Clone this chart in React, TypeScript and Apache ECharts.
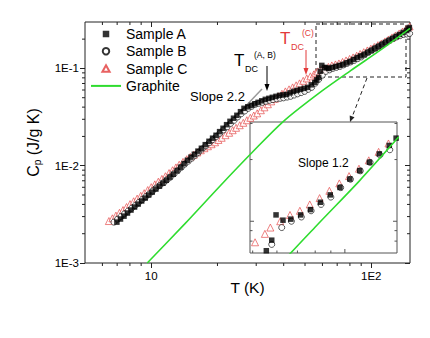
import React, { useEffect, useRef } from 'react';
import * as echarts from 'echarts';

// ---- data ----
const sampleA_T = [6.98, 7.25, 7.52, 7.8, 8.09, 8.4, 8.72, 9.05, 9.39, 9.74, 10.1, 10.5, 10.9, 11.3, 11.7, 12.15, 12.6, 13.1, 13.6, 14.1, 14.6, 15.15, 15.7, 16.3, 16.9, 17.6, 18.3, 19.0, 19.7, 20.45, 21.2, 22.0, 22.8, 23.65, 24.5, 25.45, 26.4, 27.45, 28.5, 29.55, 30.6, 31.8, 33.0, 34.25, 35.5, 36.9, 38.3, 39.75, 41.2, 42.75, 44.3, 46.0, 47.7, 49.55, 51.4, 53.4, 55.4, 56.5, 57.7, 58.6, 59.6, 61.5, 62.8, 64.2, 66.6, 69.1, 71.7, 74.4, 77.2, 80.1, 83.2, 86.3, 89.6, 92.9, 96.4, 100, 103.8, 107.7, 111.8, 115.9, 120.3, 124.8, 129.6, 134.4, 139.6, 144.8, 147, 149];
const sampleA_Cp = [0.00263, 0.00283, 0.00303, 0.00326, 0.0035, 0.00376, 0.00403, 0.00434, 0.00465, 0.005, 0.00535, 0.00576, 0.00617, 0.00663, 0.0071, 0.00764, 0.00818, 0.00892, 0.00966, 0.01052, 0.01138, 0.01225, 0.01312, 0.01412, 0.01511, 0.01646, 0.01782, 0.01918, 0.02055, 0.0224, 0.02425, 0.02641, 0.02858, 0.03077, 0.03297, 0.03592, 0.03888, 0.04031, 0.04175, 0.04327, 0.0448, 0.04644, 0.04808, 0.04925, 0.05043, 0.05165, 0.05287, 0.05348, 0.0541, 0.05607, 0.05805, 0.05947, 0.06089, 0.06236, 0.06384, 0.06782, 0.0718, 0.07632, 0.08084, 0.0935, 0.1074, 0.1024, 0.1012, 0.1, 0.1024, 0.1049, 0.1074, 0.1099, 0.114, 0.118, 0.1238, 0.1297, 0.1345, 0.1393, 0.1462, 0.1531, 0.1607, 0.1683, 0.1766, 0.1849, 0.194, 0.2032, 0.2132, 0.2233, 0.2343, 0.2453, 0.2544, 0.2635];

const sampleB_T = [6.77, 7.03, 7.29, 7.56, 7.84, 8.14, 8.45, 8.77, 9.09, 9.44, 9.79, 10.14, 10.5, 10.95, 11.4, 11.8, 12.2, 12.7, 13.2, 13.7, 14.2, 14.75, 15.3, 15.85, 16.4, 17.05, 17.7, 18.35, 19.0, 19.75, 20.5, 21.3, 22.1, 22.95, 23.8, 24.7, 25.6, 26.6, 27.6, 28.65, 29.7, 30.85, 32.0, 33.2, 34.4, 35.75, 37.1, 38.5, 39.9, 41.45, 43.0, 44.6, 46.2, 48.0, 49.8, 51.7, 53.6, 55.65, 57.7, 59.95, 62.2, 64.55, 66.9, 69.5, 72.1, 74.85, 77.6, 80.6, 83.6, 86.8, 90.0, 93.45, 96.9, 100.6, 104.3, 108.3, 112.3, 116.6, 120.9, 125.55, 130.2, 135.2, 140.2, 144.8, 149.4];
const sampleB_Cp = [0.00263, 0.00282, 0.003, 0.0032, 0.00341, 0.00365, 0.00389, 0.00418, 0.00448, 0.00479, 0.0051, 0.00549, 0.00588, 0.00628, 0.00669, 0.00715, 0.00762, 0.00825, 0.00889, 0.00962, 0.01036, 0.01115, 0.01194, 0.01284, 0.01375, 0.01489, 0.01603, 0.01725, 0.01848, 0.02001, 0.02154, 0.02332, 0.02511, 0.0272, 0.02929, 0.03172, 0.03415, 0.03651, 0.03888, 0.04081, 0.04275, 0.04377, 0.0448, 0.04588, 0.04696, 0.04781, 0.04866, 0.04923, 0.04981, 0.05071, 0.05162, 0.05317, 0.05472, 0.05638, 0.05805, 0.06094, 0.06384, 0.07046, 0.07709, 0.08512, 0.09316, 0.09658, 0.1, 0.1024, 0.1049, 0.1087, 0.1125, 0.1166, 0.1208, 0.126, 0.1312, 0.1385, 0.1459, 0.1531, 0.1603, 0.1682, 0.1762, 0.1849, 0.1937, 0.202, 0.2104, 0.2168, 0.2233, 0.2259, 0.2286];

const sampleC_T = [6.42, 6.66, 6.91, 7.17, 7.44, 7.72, 8.01, 8.32, 8.63, 8.96, 9.29, 9.64, 10.0, 10.38, 10.77, 11.18, 11.6, 12.05, 12.5, 12.95, 13.4, 13.95, 14.5, 15.05, 15.6, 16.2, 16.8, 17.45, 18.1, 18.8, 19.5, 20.2, 20.9, 21.75, 22.6, 23.45, 24.3, 25.25, 26.2, 27.2, 28.2, 29.25, 30.3, 31.5, 32.7, 33.9, 35.1, 36.45, 37.8, 39.25, 40.7, 42.3, 43.9, 45.55, 47.2, 49.05, 50.9, 52.85, 54.8, 55.95, 57.1, 59.3, 61.5, 63.85, 66.2, 68.75, 71.3, 74.05, 76.8, 79.75, 82.7, 85.85, 89.0, 92.45, 95.9, 99.55, 103.2, 107.2, 111.2, 115.45, 119.7, 124.3, 128.9, 133.85, 138.8, 144.1, 149.4];
const sampleC_Cp = [0.0027, 0.00288, 0.00307, 0.00328, 0.0035, 0.00376, 0.00403, 0.00431, 0.00459, 0.0049, 0.00522, 0.00562, 0.00602, 0.00643, 0.00685, 0.00732, 0.0078, 0.0084, 0.00899, 0.0096, 0.01024, 0.01095, 0.01166, 0.01231, 0.01297, 0.01369, 0.01442, 0.01513, 0.01585, 0.01663, 0.01742, 0.0184, 0.01937, 0.02059, 0.02181, 0.02317, 0.02453, 0.02607, 0.02761, 0.02934, 0.03107, 0.03281, 0.03455, 0.03718, 0.03981, 0.04284, 0.04587, 0.04874, 0.05162, 0.05485, 0.05808, 0.06096, 0.06385, 0.06702, 0.07019, 0.07457, 0.07896, 0.08287, 0.08679, 0.08997, 0.09316, 0.09658, 0.1, 0.1036, 0.1073, 0.1099, 0.1125, 0.1166, 0.1208, 0.1252, 0.1297, 0.1352, 0.1408, 0.1469, 0.153, 0.1595, 0.1661, 0.1733, 0.1805, 0.1894, 0.1983, 0.2082, 0.2181, 0.2288, 0.2396, 0.2546, 0.2697];

const graphite_T = [9.59, 14.17, 20.5, 28.8, 39.9, 57.7, 80.9, 111.2, 150];
const graphite_Cp = [0.001, 0.00251, 0.00616, 0.01375, 0.0286, 0.0554, 0.0954, 0.1566, 0.258];

const seriesNames = ['Sample A', 'Sample B', 'Sample C', 'Graphite'];

// axis ranges and ticks
const xRange = [5, 150];
const yRange = [0.001, 0.3];
const xMajor = [10, 100];
const yMajor = [0.001, 0.01, 0.1];
const xMinor = [6, 7, 8, 9, 20, 30, 40, 50, 60, 70, 80, 90];
const yMinor = [0.002, 0.003, 0.004, 0.005, 0.006, 0.007, 0.008, 0.009, 0.02, 0.03, 0.04, 0.05, 0.06, 0.07, 0.08, 0.09, 0.2];

const insetXRange = [49, 148];
const insetYRange = [0.07, 0.305];
const insetXMinor = [50, 60, 70, 80, 90];
const insetXMajor = [100];
const insetYMinor = [0.08, 0.09, 0.2, 0.3];
const insetYMajor = [0.1];

const FONT = "'Liberation Sans', Arial, Helvetica, sans-serif";
const RED = '#e23a3a';
const GREEN = '#2fdc2f';
const AXIS = '#222';

const SQUARE_ICON = 'path://M0,0L10,0L10,10L0,10Z';
const TRIANGLE_ICON = 'path://M5,0L10,9L0,9Z';

const pairs = (xs: number[], ys: number[]) => xs.map((x, i) => [x, ys[i]]);
const inInset = (p: number[]) => p[0] >= insetXRange[0] && p[0] <= insetXRange[1];
const everyOther = (_p: number[], i: number) => i % 2 === 0;

const fmtX = (v: number) => {
  const l = Math.log10(v);
  if (Math.abs(l - Math.round(l)) > 1e-6) return '';
  const e = Math.round(l);
  return e === 1 ? '10' : '1E' + e;
};
const fmtY = (v: number) => {
  const l = Math.log10(v);
  if (Math.abs(l - Math.round(l)) > 1e-6) return '';
  return '1E' + Math.round(l);
};

const tickSeries = (xi: number, yi: number, pts: number[][], dx: number, dy: number, color = AXIS) => ({
  type: 'custom',
  xAxisIndex: xi,
  yAxisIndex: yi,
  silent: true,
  clip: false,
  z: 6,
  data: pts,
  renderItem: (_params: any, api: any) => {
    const p = api.coord([api.value(0), api.value(1)]);
    return {
      type: 'line',
      shape: { x1: p[0], y1: p[1], x2: p[0] + dx, y2: p[1] + dy },
      style: { stroke: color, lineWidth: 1 },
    };
  },
});

const logAxis = (grid: number, pos: string, range: number[], extra: any = {}) => ({
  type: 'log',
  logBase: 10,
  gridIndex: grid,
  position: pos,
  min: range[0],
  max: range[1],
  axisLine: { show: false },
  splitLine: { show: false },
  minorTick: { show: false },
  axisLabel: { show: false },
  axisTick: { show: false },
  ...extra,
});

const scatterStyle = {
  A: { symbol: 'rect', symbolSize: 5.5, itemStyle: { color: '#000', borderColor: '#000', borderWidth: 0 } },
  B: { symbol: 'circle', symbolSize: 6, itemStyle: { color: '#fff', borderColor: '#000', borderWidth: 0.8 } },
  C: { symbol: 'triangle', symbolSize: 7, itemStyle: { color: '#fff', borderColor: RED, borderWidth: 0.8 } },
};

const dataA = pairs(sampleA_T, sampleA_Cp);
const dataB = pairs(sampleB_T, sampleB_Cp);
const dataC = pairs(sampleC_T, sampleC_Cp);
const dataG = pairs(graphite_T, graphite_Cp);

const option: any = {
  animation: false,
  backgroundColor: '#fff',
  textStyle: { fontFamily: FONT },
  grid: [
    { left: 85, top: 22, width: 325, height: 241, show: true, borderColor: AXIS, borderWidth: 1, backgroundColor: 'transparent' },
    { left: 250, top: 122, width: 147, height: 131, show: true, borderColor: '#555', borderWidth: 1, backgroundColor: 'transparent' },
  ],
  legend: {
    data: [
      { name: seriesNames[0], icon: SQUARE_ICON },
      { name: seriesNames[1] },
      { name: seriesNames[2], icon: TRIANGLE_ICON },
      { name: seriesNames[3], itemStyle: { color: 'rgba(0,0,0,0)', borderWidth: 0, opacity: 0 } },
    ],
    orient: 'vertical',
    left: 90,
    top: 25.5,
    padding: 0,
    itemGap: 0.3,
    itemWidth: 30,
    itemHeight: 6.5,
    symbolKeepAspect: true,
    selectedMode: false,
    textStyle: { fontSize: 14, color: '#000', fontFamily: FONT, lineHeight: 17 },
  },
  xAxis: [
    logAxis(0, 'bottom', xRange, {
      axisTick: { show: true, inside: false, length: 5, customValues: xMajor, lineStyle: { color: AXIS } },
      axisLabel: { show: true, customValues: xMajor, formatter: fmtX, margin: 7, fontSize: 11.5, color: '#000', fontFamily: FONT },
      name: 'T (K)',
      nameLocation: 'middle',
      nameGap: 16,
      nameMoveOverlap: false,
      nameTextStyle: { fontSize: 15.5, color: '#000', fontFamily: FONT },
    }),
    logAxis(0, 'top', xRange, {
      axisTick: { show: true, inside: true, length: 5, customValues: xMajor, lineStyle: { color: AXIS } },
    }),
    logAxis(1, 'bottom', insetXRange),
  ],
  yAxis: [
    logAxis(0, 'left', yRange, {
      axisTick: { show: true, inside: false, length: 5, customValues: yMajor, lineStyle: { color: AXIS } },
      axisLabel: { show: true, customValues: yMajor, formatter: fmtY, margin: 6, fontSize: 11.5, color: '#000', fontFamily: FONT },
      name: '{c|C}{p|p}{c| (J/g K)}',
      nameLocation: 'middle',
      nameGap: 43,
      nameMoveOverlap: false,
      nameTextStyle: {
        color: '#000',
        fontFamily: FONT,
        rich: {
          c: { fontSize: 16, fontFamily: FONT, color: '#000' },
          p: { fontSize: 10, fontFamily: FONT, color: '#000', verticalAlign: 'bottom', padding: [8, 0, 0, 0] },
        },
      },
    }),
    logAxis(0, 'right', yRange, {
      axisTick: { show: true, inside: true, length: 5, customValues: yMajor, lineStyle: { color: AXIS } },
    }),
    logAxis(1, 'left', insetYRange),
  ],
  series: [
    { name: 'Sample C', type: 'scatter', xAxisIndex: 0, yAxisIndex: 0, data: dataC, ...scatterStyle.C, z: 2 },
    { name: 'Sample B', type: 'scatter', xAxisIndex: 0, yAxisIndex: 0, data: dataB, ...scatterStyle.B, z: 3 },
    { name: 'Sample A', type: 'scatter', xAxisIndex: 0, yAxisIndex: 0, data: dataA, ...scatterStyle.A, z: 4 },
    { name: 'Graphite', type: 'line', xAxisIndex: 0, yAxisIndex: 0, data: dataG, symbol: 'none', smooth: 0.3, lineStyle: { color: GREEN, width: 1.6 }, itemStyle: { color: GREEN }, z: 5 },
    // inset
    { name: 'Sample C', type: 'scatter', xAxisIndex: 2, yAxisIndex: 2, data: dataC.filter(everyOther).filter(inInset), ...scatterStyle.C, z: 2, clip: true },
    { name: 'Sample B', type: 'scatter', xAxisIndex: 2, yAxisIndex: 2, data: dataB.filter(everyOther).filter(inInset), ...scatterStyle.B, z: 3, clip: true },
    { name: 'Sample A', type: 'scatter', xAxisIndex: 2, yAxisIndex: 2, data: dataA.filter(everyOther).filter(inInset), ...scatterStyle.A, z: 4, clip: true },
    { name: 'Graphite', type: 'line', xAxisIndex: 2, yAxisIndex: 2, data: dataG, symbol: 'none', smooth: 0.3, lineStyle: { color: GREEN, width: 1.6 }, itemStyle: { color: GREEN }, z: 5, clip: true },
    // minor ticks, main frame
    tickSeries(0, 0, xMinor.map((v) => [v, yRange[0]]), 0, 3),
    tickSeries(0, 0, xMinor.map((v) => [v, yRange[1]]), 0, 3),
    tickSeries(0, 0, yMinor.map((v) => [xRange[0], v]), -3, 0),
    tickSeries(0, 0, yMinor.map((v) => [xRange[1], v]), -3, 0),
    // inset ticks
    tickSeries(2, 2, insetXMinor.map((v) => [v, insetYRange[0]]), 0, -2.5, '#555'),
    tickSeries(2, 2, insetXMajor.map((v) => [v, insetYRange[0]]), 0, -4, '#555'),
    tickSeries(2, 2, insetYMinor.map((v) => [insetXRange[0], v]), 2.5, 0, '#555'),
    tickSeries(2, 2, insetYMajor.map((v) => [insetXRange[0], v]), 4, 0, '#555'),
    tickSeries(2, 2, insetYMinor.map((v) => [insetXRange[1], v]), -2.5, 0, '#555'),
    tickSeries(2, 2, insetYMajor.map((v) => [insetXRange[1], v]), -4, 0, '#555'),
  ],
  graphic: [
    // Slope 2.2 guide
    { type: 'text', left: 190, top: 90, style: { text: 'Slope 2.2', fontSize: 13, fill: '#000', fontFamily: FONT } },
    { type: 'line', shape: { x1: 240, y1: 112, x2: 262, y2: 89 }, style: { stroke: '#9a9a9a', lineWidth: 1.5 } },
    // T_DC (A, B)
    { type: 'text', left: 234, top: 52, style: { text: 'T', fontSize: 17, fill: '#000', fontFamily: FONT } },
    { type: 'text', left: 245, top: 64, style: { text: 'DC', fontSize: 9, fill: '#000', fontFamily: FONT } },
    { type: 'text', left: 254, top: 50, style: { text: '(A, B)', fontSize: 8.5, fill: '#000', fontFamily: FONT } },
    { type: 'line', shape: { x1: 267, y1: 66, x2: 267, y2: 85 }, style: { stroke: '#000', lineWidth: 1 } },
    { type: 'polygon', shape: { points: [[264.5, 84], [269.5, 84], [267, 91]] }, style: { fill: '#000' } },
    // T_DC (C)
    { type: 'text', left: 280, top: 30, style: { text: 'T', fontSize: 17, fill: RED, fontFamily: FONT } },
    { type: 'text', left: 291, top: 42, style: { text: 'DC', fontSize: 9, fill: RED, fontFamily: FONT } },
    { type: 'text', left: 302, top: 28, style: { text: '(C)', fontSize: 8.5, fill: RED, fontFamily: FONT } },
    { type: 'line', shape: { x1: 306, y1: 50, x2: 306, y2: 69 }, style: { stroke: RED, lineWidth: 1 } },
    { type: 'polygon', shape: { points: [[303.5, 68], [308.5, 68], [306, 75]] }, style: { fill: RED } },
    // zoom box and connector
    { type: 'rect', shape: { x: 316, y: 24, width: 90, height: 53 }, style: { fill: 'none', stroke: '#222', lineWidth: 1, lineDash: [4, 3] } },
    { type: 'line', shape: { x1: 367, y1: 78, x2: 352.3, y2: 116.5 }, style: { stroke: '#222', lineWidth: 1, lineDash: [4, 3] } },
    { type: 'polygon', shape: { points: [[350, 122], [349.7, 115.5], [354.5, 117.3]] }, style: { fill: '#222' } },
    // inset label
    { type: 'text', left: 298, top: 157, style: { text: 'Slope 1.2', fontSize: 12, fill: '#000', fontFamily: FONT } },
  ],
};

export default function App() {
  const ref = useRef<HTMLDivElement>(null);
  useEffect(() => {
    const chart = echarts.init(ref.current as HTMLDivElement, null, { renderer: 'svg' });
    chart.setOption(option);
    return () => chart.dispose();
  }, []);
  return <div ref={ref} style={{ position: 'absolute', left: 0, top: 0, width: 430, height: 338 }} />;
}
